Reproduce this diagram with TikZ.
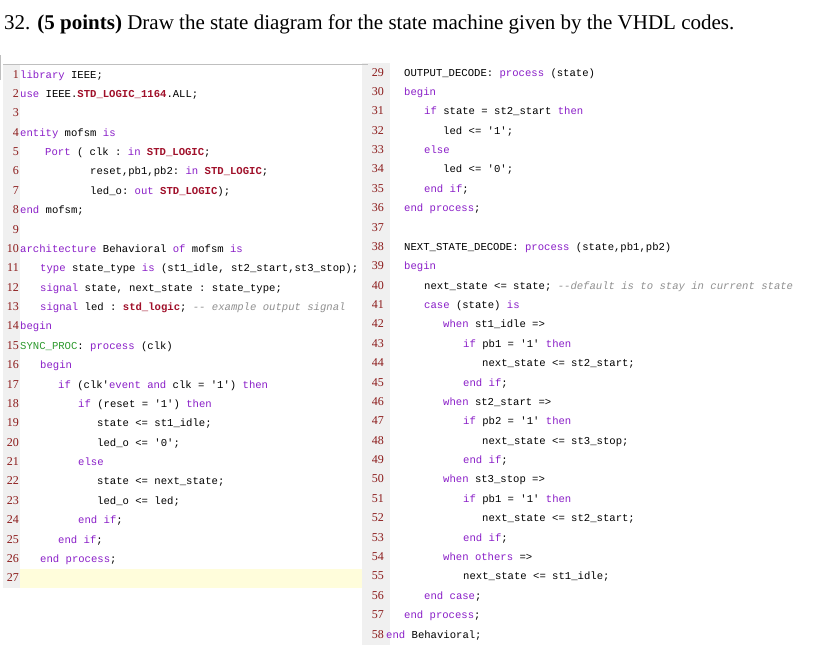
\documentclass[tikz,border=0pt]{standalone}
\usepackage{fontspec}
\setmainfont{Liberation Serif}
\setmonofont{Liberation Mono}
\definecolor{kw}{HTML}{8A1EC8}
\definecolor{ty}{HTML}{A0102A}
\definecolor{ln}{HTML}{8B1A1A}
\definecolor{cm}{HTML}{909090}
\definecolor{gn}{HTML}{2E9A2E}
\newcommand{\kw}[1]{\textcolor{kw}{#1}}
\newcommand{\ty}[1]{\textcolor{ty}{\bfseries #1}}
\newcommand{\cm}[1]{\textcolor{cm}{\itshape #1}}
\tikzset{code/.style={anchor=base west,inner sep=0pt,font=\ttfamily\fontsize{10.6}{12}\selectfont},
 num/.style={anchor=base east,inner sep=0pt,text=ln,font=\fontsize{12}{13}\selectfont}}
\newcommand{\Lb}[1]{\fpeval{78+19.38*(#1-1)}}
\newcommand{\Rb}[1]{\fpeval{76+19.38*(#1-29)}}
\begin{document}
\begin{tikzpicture}[x=1pt,y=-1pt]
\useasboundingbox (0,0) rectangle (817,651);
\fill[white] (0,0) rectangle (817,651);
% panels
\fill[black!6] (3,64) rectangle (20,588);
\fill[black!6] (362,63) rectangle (390,645);
\fill[yellow!14] (20,569) rectangle (362,588);
\draw[black!25] (3,64) -- (368,64);
\draw[black!25] (0.5,55) -- (0.5,80);
\node[anchor=base west,inner sep=0pt,font=\fontsize{21}{24}\selectfont] (title) at (4,29) {32. \textbf{(5 points)} Draw the state diagram for the state machine given by the VHDL codes.};
% left numbers
\foreach \i in {1,...,27}{ \node[num] (ln\i) at (19,{\Lb{\i}}) {\i}; }
\foreach \i in {29,...,58}{ \node[num] (rn\i) at (384,{\Rb{\i}}) {\i}; }
\node[code] (c1) at (20,{\Lb{1}}) {\kw{library} IEEE;};
\node[code] (c2) at (20,{\Lb{2}}) {\kw{use} IEEE.\ty{STD\_LOGIC\_1164}.ALL;};
\node[code] (c4) at (20,{\Lb{4}}) {\kw{entity} mofsm \kw{is}};
\node[code] (c5) at (45,{\Lb{5}}) {\kw{Port} ( clk : \kw{in} \ty{STD\_LOGIC};};
\node[code] (c6) at (90,{\Lb{6}}) {reset,pb1,pb2: \kw{in} \ty{STD\_LOGIC};};
\node[code] (c7) at (90,{\Lb{7}}) {led\_o: \kw{out} \ty{STD\_LOGIC});};
\node[code] (c8) at (20,{\Lb{8}}) {\kw{end} mofsm;};
\node[code] (c10) at (20,{\Lb{10}}) {\kw{architecture} Behavioral \kw{of} mofsm \kw{is}};
\node[code] (c11) at (40,{\Lb{11}}) {\kw{type} state\_type \kw{is} (st1\_idle, st2\_start,st3\_stop);};
\node[code] (c12) at (40,{\Lb{12}}) {\kw{signal} state, next\_state : state\_type;};
\node[code] (c13) at (40,{\Lb{13}}) {\kw{signal} led : \ty{std\_logic}; \cm{{-}{-} example output signal}};
\node[code] (c14) at (20,{\Lb{14}}) {\kw{begin}};
\node[code] (c15) at (20,{\Lb{15}}) {\textcolor{gn}{SYNC\_PROC}: \kw{process} (clk)};
\node[code] (c16) at (40,{\Lb{16}}) {\kw{begin}};
\node[code] (c17) at (58,{\Lb{17}}) {\kw{if} (clk'\kw{event} \kw{and} clk = '1') \kw{then}};
\node[code] (c18) at (78,{\Lb{18}}) {\kw{if} (reset = '1') \kw{then}};
\node[code] (c19) at (97,{\Lb{19}}) {state <= st1\_idle;};
\node[code] (c20) at (97,{\Lb{20}}) {led\_o <= '0';};
\node[code] (c21) at (78,{\Lb{21}}) {\kw{else}};
\node[code] (c22) at (97,{\Lb{22}}) {state <= next\_state;};
\node[code] (c23) at (97,{\Lb{23}}) {led\_o <= led;};
\node[code] (c24) at (78,{\Lb{24}}) {\kw{end} \kw{if};};
\node[code] (c25) at (58,{\Lb{25}}) {\kw{end} \kw{if};};
\node[code] (c26) at (40,{\Lb{26}}) {\kw{end} \kw{process};};
% right
\node[code] (d29) at (404,{\Rb{29}}) {OUTPUT\_DECODE: \kw{process} (state)};
\node[code] (d30) at (404,{\Rb{30}}) {\kw{begin}};
\node[code] (d31) at (424,{\Rb{31}}) {\kw{if} state = st2\_start \kw{then}};
\node[code] (d32) at (443,{\Rb{32}}) {led <= '1';};
\node[code] (d33) at (424,{\Rb{33}}) {\kw{else}};
\node[code] (d34) at (443,{\Rb{34}}) {led <= '0';};
\node[code] (d35) at (424,{\Rb{35}}) {\kw{end} \kw{if};};
\node[code] (d36) at (404,{\Rb{36}}) {\kw{end} \kw{process};};
\node[code] (d38) at (404,{\Rb{38}}) {NEXT\_STATE\_DECODE: \kw{process} (state,pb1,pb2)};
\node[code] (d39) at (404,{\Rb{39}}) {\kw{begin}};
\node[code] (d40) at (424,{\Rb{40}}) {next\_state <= state; \cm{{-}{-}default is to stay in current state}};
\node[code] (d41) at (424,{\Rb{41}}) {\kw{case} (state) \kw{is}};
\node[code] (d42) at (443,{\Rb{42}}) {\kw{when} st1\_idle =>};
\node[code] (d43) at (463,{\Rb{43}}) {\kw{if} pb1 = '1' \kw{then}};
\node[code] (d44) at (482,{\Rb{44}}) {next\_state <= st2\_start;};
\node[code] (d45) at (463,{\Rb{45}}) {\kw{end} \kw{if};};
\node[code] (d46) at (443,{\Rb{46}}) {\kw{when} st2\_start =>};
\node[code] (d47) at (463,{\Rb{47}}) {\kw{if} pb2 = '1' \kw{then}};
\node[code] (d48) at (482,{\Rb{48}}) {next\_state <= st3\_stop;};
\node[code] (d49) at (463,{\Rb{49}}) {\kw{end} \kw{if};};
\node[code] (d50) at (443,{\Rb{50}}) {\kw{when} st3\_stop =>};
\node[code] (d51) at (463,{\Rb{51}}) {\kw{if} pb1 = '1' \kw{then}};
\node[code] (d52) at (482,{\Rb{52}}) {next\_state <= st2\_start;};
\node[code] (d53) at (463,{\Rb{53}}) {\kw{end} \kw{if};};
\node[code] (d54) at (443,{\Rb{54}}) {\kw{when} \kw{others} =>};
\node[code] (d55) at (463,{\Rb{55}}) {next\_state <= st1\_idle;};
\node[code] (d56) at (424,{\Rb{56}}) {\kw{end} \kw{case};};
\node[code] (d57) at (404,{\Rb{57}}) {\kw{end} \kw{process};};
\node[code] (d58) at (386,{\Rb{58}}) {\kw{end} Behavioral;};
\end{tikzpicture}
\end{document}
